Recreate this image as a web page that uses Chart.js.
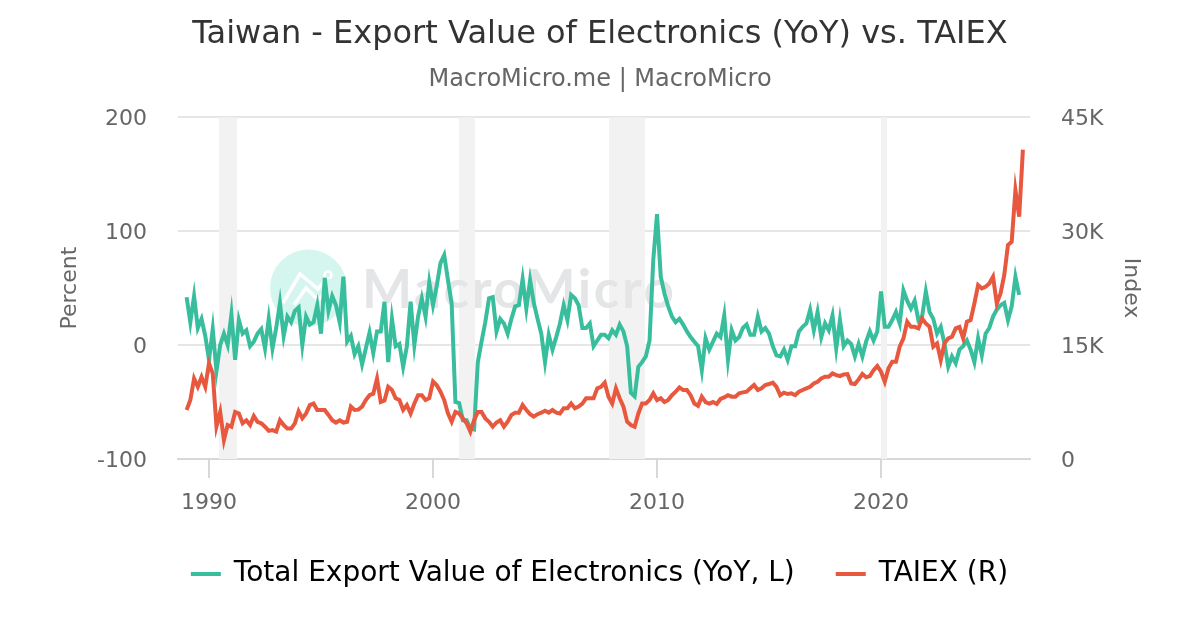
<!DOCTYPE html>
<html>
<head>
<meta charset="utf-8">
<title>Taiwan - Export Value of Electronics (YoY) vs. TAIEX</title>
<script src="https://cdn.jsdelivr.net/npm/chart.js@4"></script>
<style>
  html, body { margin: 0; padding: 0; background: #fff; }
  #wrap { width: 1200px; height: 630px; }
</style>
</head>
<body>
<div id="wrap"><canvas id="chart" width="1200" height="630"></canvas></div>
<script>
const titleText = 'Taiwan - Export Value of Electronics (YoY) vs. TAIEX';
const subtitleText = 'MacroMicro.me | MacroMicro';
const seriesNames = ['Total Export Value of Electronics (YoY, L)', 'TAIEX (R)'];
const xTicks = [1990, 2000, 2010, 2020];
const rightTickLabels = { 0: '0', 15000: '15K', 30000: '30K', 45000: '45K' };

// recession bands, [start, end] in decimal years
const recessions = [[1990.45, 1991.25], [2001.16, 2001.87], [2007.86, 2009.46], [2020.0, 2020.27]];

// one reading every two months from Jan 1989
const startYear = 1989;
const stepYears = 1 / 6;

const exportsYoY = [
  42, 20, 43, 15, 23, 8, -13, 14, -23, 0, 10, 0, 27, -13, 22, 10, 13, -1, 3, 10,
  14, -3, 23, -3, 15, 37, 8, 25, 20, 30, 33, 0, 25, 18, 20, 35, 10, 59, 30, 43,
  35, 20, 60, 3, 8, -8, -1, -17, -3, 11, -7, 12, 12, 38, -15, 23, -1, 1, -19, -1,
  38, 0, 25, 41, 25, 55, 35, 52, 72, 79, 57, 36, -50, -51, -66, -66, -73, -74, -15, 3,
  20, 41, 42, 12, 23, 19, 10, 23, 34, 35, 58, 32, 57, 37, 23, 10, -15, 9, -4, 7,
  19, 35, 22, 44, 41, 35, 15, 15, 19, -1, 4, 9, 9, 6, 13, 9, 18, 12, -1, -42,
  -45, -19, -15, -10, 4, 75, 115, 60, 45, 34, 25, 20, 23, 18, 12, 7, 3, -1, -22, 6,
  -4, 3, 10, 7, 26, -13, 13, 4, 7, 15, 18, 9, 9, 25, 12, 15, 10, -1, -9, -10,
  -4, -13, -1, -1, 12, 16, 19, 31, 13, 29, 7, 19, 13, 26, -3, 22, -1, 4, 1, -10,
  1, -10, 3, 12, 4, 12, 47, 16, 16, 22, 29, 19, 48, 39, 32, 39, 22, 25, 47, 29,
  23, 10, 16, 1, -19, -10, -16, -4, -1, 4, -4, -15, 6, -9, 10, 15, 25, 31, 35, 37,
  22, 34, 60, 44
];

const taiex = [
  6450, 7760, 10600, 9500, 10800, 9500, 12600, 11270, 4300, 6200, 2500, 4470, 4250, 6200, 6000, 4700, 5100, 4470, 5660, 4900,
  4700, 4250, 3700, 3800, 3600, 5100, 4470, 4000, 4000, 4700, 6300, 5350, 6000, 7100, 7300, 6450, 6450, 6450, 5800, 5100,
  4800, 5100, 4800, 4900, 6900, 6450, 6500, 6900, 7760, 8400, 8600, 10600, 7500, 7700, 9500, 9100, 8000, 7760, 6450, 7100,
  6000, 7300, 8400, 8400, 7760, 8000, 10200, 9700, 8860, 7760, 6000, 4900, 6200, 6000, 5350, 4700, 3600, 5100, 6200, 6200,
  5350, 4900, 4250, 4800, 5100, 4250, 4900, 5800, 6100, 6100, 7100, 6450, 5900, 5570, 5900, 6100, 6350, 6100, 6450, 6100,
  6000, 6670, 6670, 7300, 6670, 6900, 7300, 8000, 8000, 8000, 9300, 9500, 10050, 8200, 7300, 9300, 8000, 6900, 4900, 4470,
  4250, 6000, 7300, 7300, 7760, 8640, 7760, 8000, 7500, 7760, 8400, 8860, 9430, 9080, 9080, 8400, 7300, 7000, 8200, 7500,
  7300, 7500, 7240, 7900, 8100, 8400, 8200, 8200, 8640, 8770, 8860, 9300, 9740, 9080, 9300, 9740, 9870, 10050, 9500, 8400,
  8730, 8550, 8640, 8400, 8860, 9080, 9300, 9500, 9950, 10175, 10600, 10830, 10830, 11270, 11050, 10920, 11140, 11180, 9950, 9870,
  10480, 11180, 10750, 10920, 11700, 12240, 11490, 10175, 11930, 12800, 12800, 14780, 15880, 18070, 17400, 17400, 17200, 18500, 17850, 17400,
  14780, 15220, 13030, 15220, 15880, 16100, 17200, 17400, 15880, 18070, 18300, 20480, 22900, 22460, 22680, 23100, 24000, 20480, 21800, 24200,
  28160, 28600, 35400, 31900, 40740
];

const toPoints = values => values.map((v, i) => ({ x: startYear + i * stepYears, y: v }));

const FONT = '"DejaVu Sans", sans-serif';

// grey bands and the watermark sit under the lines
const backdrop = {
  id: 'backdrop',
  beforeDatasetsDraw(chart) {
    const { ctx, chartArea, scales: { x } } = chart;
    ctx.save();
    ctx.fillStyle = '#f2f2f2';
    recessions.forEach(([a, b]) => {
      const left = x.getPixelForValue(a);
      ctx.fillRect(left, chartArea.top, x.getPixelForValue(b) - left, chartArea.bottom - chartArea.top);
    });

    ctx.fillStyle = '#d4f6ee';
    ctx.beginPath();
    ctx.arc(308.5, 288, 38.5, 0, Math.PI * 2);
    ctx.fill();
    ctx.strokeStyle = '#ffffff';
    ctx.lineWidth = 3.5;
    ctx.beginPath();
    ctx.moveTo(283, 303); ctx.lineTo(300, 274); ctx.lineTo(318, 289); ctx.lineTo(325, 280);
    ctx.moveTo(294, 305); ctx.lineTo(306, 288); ctx.lineTo(318, 300); ctx.lineTo(328, 290);
    ctx.stroke();
    ctx.lineWidth = 2.5;
    ctx.beginPath();
    ctx.arc(328, 275, 3.5, 0, Math.PI * 2);
    ctx.stroke();

    ctx.fillStyle = '#e4e5e6';
    ctx.font = '700 53px Lato, ' + FONT;
    ctx.letterSpacing = '2.6px';
    ctx.textAlign = 'left';
    ctx.textBaseline = 'alphabetic';
    ctx.fillText('MacroMicro', 362, 308);
    ctx.restore();
  }
};

new Chart(document.getElementById('chart'), {
  type: 'line',
  data: {
    datasets: [{
      label: seriesNames[1],
      data: toPoints(taiex),
      yAxisID: 'yRight',
      borderColor: '#e8583e',
      backgroundColor: '#e8583e',
      borderWidth: 4,
      pointRadius: 0,
      tension: 0,
      order: 1
    }, {
      label: seriesNames[0],
      data: toPoints(exportsYoY),
      yAxisID: 'yLeft',
      borderColor: '#38bd9d',
      backgroundColor: '#38bd9d',
      borderWidth: 4,
      pointRadius: 0,
      tension: 0,
      order: 2
    }]
  },
  options: {
    responsive: false,
    animation: false,
    layout: { padding: { top: 15, bottom: 32, left: 0, right: 0 } },
    plugins: {
      title: {
        display: true,
        text: titleText,
        color: '#333333',
        font: { family: FONT, size: 32, weight: 'normal' },
        padding: { top: 0, bottom: 12 }
      },
      subtitle: {
        display: true,
        text: subtitleText,
        color: '#666666',
        font: { family: FONT, size: 24, weight: 'normal' },
        padding: { top: 0, bottom: 23 }
      },
      legend: {
        position: 'bottom',
        reverse: true,
        labels: {
          color: '#000000',
          boxWidth: 28,
          boxHeight: 2,
          padding: 42,
          font: { family: FONT, size: 28 },
          generateLabels: chart => Chart.defaults.plugins.legend.labels.generateLabels(chart)
            .map(item => ({ ...item, lineWidth: 2 }))
        }
      },
      tooltip: { enabled: false }
    },
    scales: {
      x: {
        type: 'linear',
        min: 1988.616,
        max: 2026.65,
        afterBuildTicks: scale => { scale.ticks = xTicks.map(v => ({ value: v })); },
        afterFit: scale => { scale.height = 59; },
        grid: { drawOnChartArea: false, drawTicks: true, tickLength: 19, color: '#d8d8d8', lineWidth: 2 },
        border: { color: '#d8d8d8', width: 2 },
        ticks: {
          autoSkip: false,
          maxRotation: 0,
          color: '#666666',
          padding: 12,
          font: { family: FONT, size: 22 },
          callback: v => String(v)
        }
      },
      yLeft: {
        position: 'left',
        min: -100,
        max: 200,
        afterFit: scale => { scale.width = 178; },
        title: {
          display: true,
          text: 'Percent',
          color: '#666666',
          padding: { top: 57, bottom: 0 },
          font: { family: FONT, size: 22 }
        },
        grid: { color: '#e6e6e6', lineWidth: 2, drawTicks: false },
        border: { display: false },
        ticks: {
          stepSize: 100,
          color: '#666666',
          padding: 31,
          labelOffset: 2,
          font: { family: FONT, size: 22 }
        }
      },
      yRight: {
        position: 'right',
        min: 0,
        max: 45000,
        afterFit: scale => { scale.width = 170; },
        title: {
          display: true,
          text: 'Index',
          color: '#666666',
          padding: { top: 56, bottom: 0 },
          font: { family: FONT, size: 22 }
        },
        grid: { drawOnChartArea: false, drawTicks: false },
        border: { display: false },
        ticks: {
          stepSize: 15000,
          color: '#666666',
          padding: 31,
          labelOffset: 2,
          font: { family: FONT, size: 22 },
          callback: v => rightTickLabels[v]
        }
      }
    }
  },
  plugins: [backdrop]
});
</script>
</body>
</html>
